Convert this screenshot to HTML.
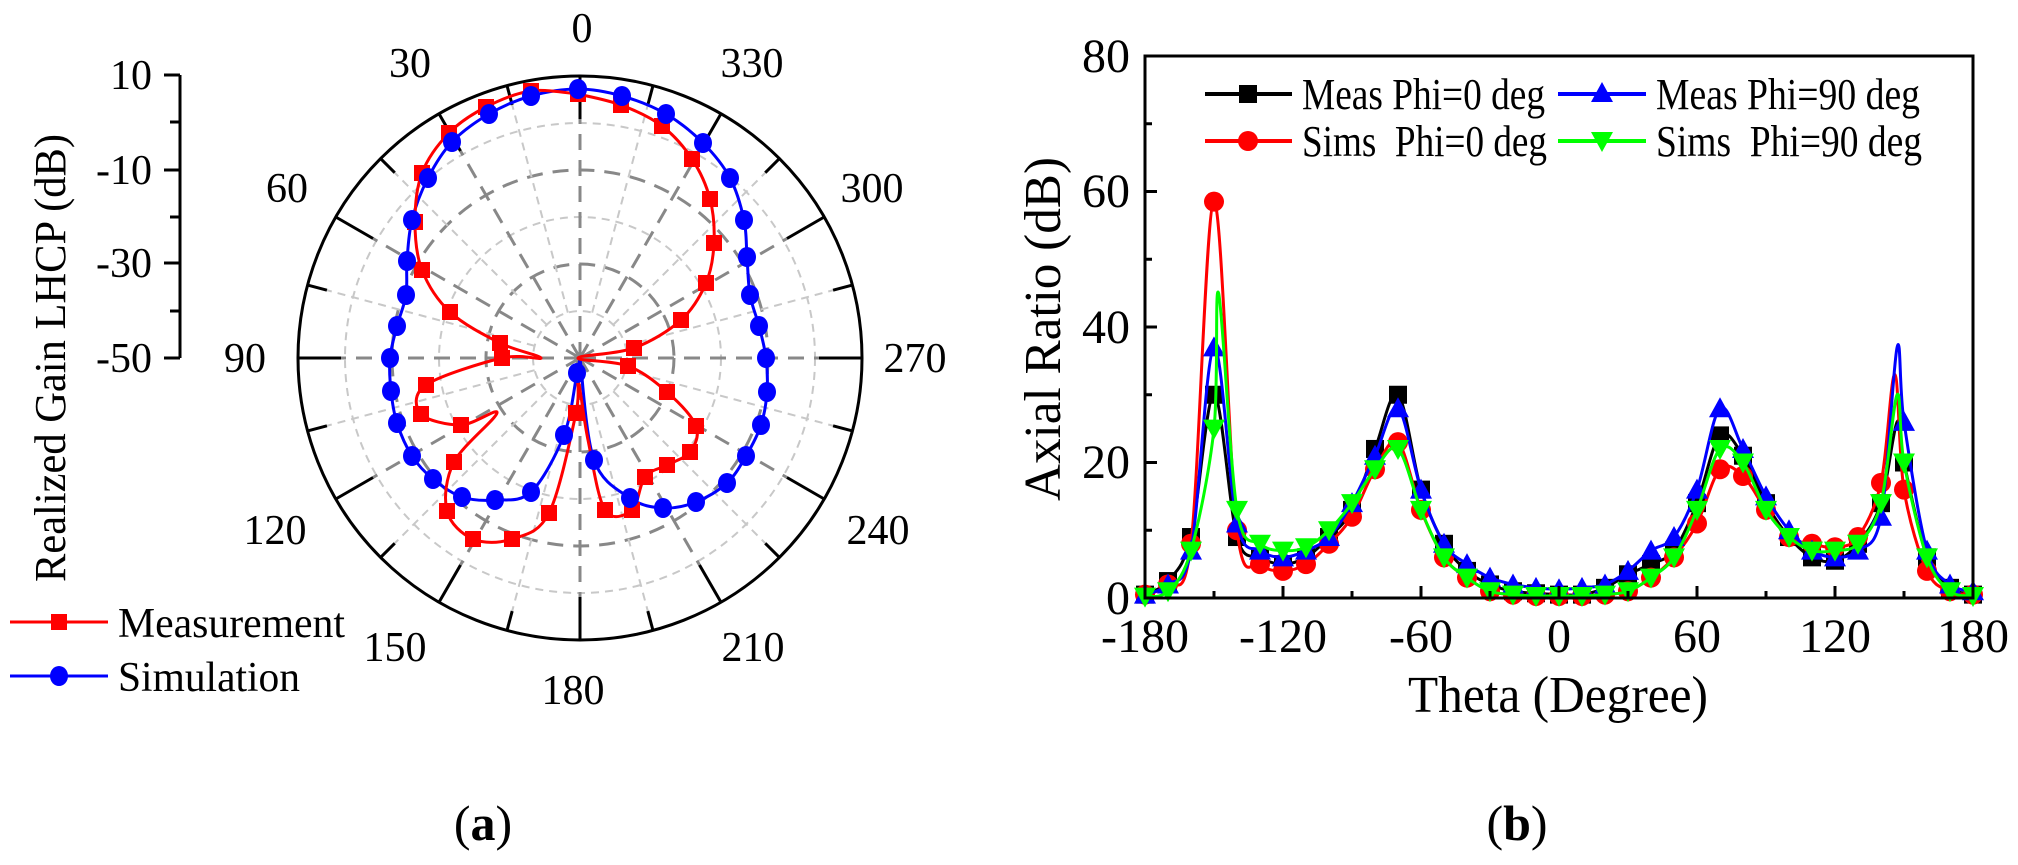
<!DOCTYPE html>
<html><head><meta charset="utf-8"><style>
html,body{margin:0;padding:0;background:#fff;font-family:"Liberation Serif","Times New Roman",serif;}
svg{display:block;}
svg text{font-family:"Liberation Serif","Times New Roman",serif;}
</style></head><body>
<svg id="s" width="2018" height="865" viewBox="0 0 2018 865" xmlns="http://www.w3.org/2000/svg" font-family="Liberation Serif, serif">
<g id="polargrid"></g>
<g id="polardata"></g>
<g stroke="#000" stroke-width="3" fill="none">
<line x1="180" y1="75" x2="180" y2="358"/>
<line x1="164" y1="75" x2="180" y2="75"/><line x1="170" y1="122" x2="180" y2="122"/>
<line x1="164" y1="170" x2="180" y2="170"/><line x1="170" y1="217" x2="180" y2="217"/>
<line x1="164" y1="263" x2="180" y2="263"/><line x1="170" y1="311" x2="180" y2="311"/>
<line x1="164" y1="358" x2="180" y2="358"/>
</g>
<g font-size="42" text-anchor="end">
<text x="152" y="89">10</text><text x="152" y="184">-10</text><text x="152" y="277">-30</text><text x="152" y="372">-50</text>
</g>
<text transform="translate(65,358) rotate(-90)" font-size="44" text-anchor="middle" textLength="448" lengthAdjust="spacingAndGlyphs">Realized Gain LHCP (dB)</text>
<g font-size="42" text-anchor="middle">
<text x="582" y="42">0</text>
<text x="410" y="77">30</text>
<text x="287" y="202">60</text>
<text x="245" y="372">90</text>
<text x="275" y="544">120</text>
<text x="395" y="661">150</text>
<text x="573" y="704">180</text>
<text x="753" y="661">210</text>
<text x="878" y="544">240</text>
<text x="915" y="372">270</text>
<text x="872" y="202">300</text>
<text x="752" y="77">330</text>
</g>
<line x1="10" y1="622" x2="108" y2="622" stroke="#f00" stroke-width="3"/>
<rect x="51" y="614" width="16" height="16" fill="#f00"/>
<line x1="10" y1="676" x2="108" y2="676" stroke="#00f" stroke-width="3"/>
<ellipse cx="59" cy="676" rx="9" ry="10" fill="#00f"/>
<text x="118" y="637" font-size="42" textLength="227" lengthAdjust="spacingAndGlyphs">Measurement</text>
<text x="118" y="691" font-size="42" textLength="182" lengthAdjust="spacingAndGlyphs">Simulation</text>
<text x="483" y="840" font-size="50" text-anchor="middle">(<tspan font-weight="bold">a</tspan>)</text>

<g id="rdata"></g>
<rect x="1145" y="56" width="828" height="542" fill="none" stroke="#000" stroke-width="3"/>
<g id="rticks" stroke="#000" stroke-width="3"></g>
<g font-size="48" text-anchor="end">
<text x="1130" y="614">0</text><text x="1130" y="478">20</text><text x="1130" y="343">40</text><text x="1130" y="207">60</text><text x="1130" y="72">80</text>
</g>
<g font-size="48" text-anchor="middle">
<text x="1145" y="652">-180</text><text x="1283" y="652">-120</text><text x="1421" y="652">-60</text><text x="1559" y="652">0</text><text x="1697" y="652">60</text><text x="1835" y="652">120</text><text x="1973" y="652">180</text>
</g>
<text x="1558" y="712" font-size="52" text-anchor="middle" textLength="300" lengthAdjust="spacingAndGlyphs">Theta (Degree)</text>
<text transform="translate(1060,329) rotate(-90)" font-size="52" text-anchor="middle" textLength="344" lengthAdjust="spacingAndGlyphs">Axial Ratio (dB)</text>
<text x="1517" y="840" font-size="50" text-anchor="middle">(<tspan font-weight="bold">b</tspan>)</text>
<g stroke-width="4">
<line x1="1205" y1="94" x2="1292" y2="94" stroke="#000"/>
<line x1="1558" y1="94" x2="1646" y2="94" stroke="#00f"/>
<line x1="1205" y1="141" x2="1292" y2="141" stroke="#f00"/>
<line x1="1558" y1="141" x2="1646" y2="141" stroke="#0f0"/>
</g>
<rect x="1239" y="85" width="18" height="18" fill="#000"/>
<polygon points="1602,82 1613,102 1591,102" fill="#00f"/>
<circle cx="1248" cy="141" r="10" fill="#f00"/>
<polygon points="1591,132 1613,132 1602,152" fill="#0f0"/>
<g font-size="44">
<text x="1302" y="109" textLength="243" lengthAdjust="spacingAndGlyphs">Meas Phi=0 deg</text>
<text x="1656" y="109" textLength="264" lengthAdjust="spacingAndGlyphs">Meas Phi=90 deg</text>
<text x="1302" y="156" textLength="245" lengthAdjust="spacingAndGlyphs">Sims&#160; Phi=0 deg</text>
<text x="1656" y="156" textLength="266" lengthAdjust="spacingAndGlyphs">Sims&#160; Phi=90 deg</text>
</g>
</svg>
<script>
var NS="http://www.w3.org/2000/svg";
function el(p,t,a){var e=document.createElementNS(NS,t);for(var k in a)e.setAttribute(k,a[k]);p.appendChild(e);return e;}
var cx=580,cy=358,R=282;
var g=document.getElementById('polargrid');
[47,141,235].forEach(function(r){el(g,'circle',{cx:cx,cy:cy,r:r,fill:'none',stroke:'#c8c8c8','stroke-width':2,'stroke-dasharray':'8 6'});});
[94,188].forEach(function(r){el(g,'circle',{cx:cx,cy:cy,r:r,fill:'none',stroke:'#888','stroke-width':3,'stroke-dasharray':'16 10'});});
for(var a=0;a<360;a+=15){
 var rad=a*Math.PI/180,s=Math.sin(rad),c=Math.cos(rad);
 var P=function(r){return [cx-r*s,cy-r*c];};
 if(a%30==0){
  var p0=P(0),p1=P(R-43);
  el(g,'line',{x1:p0[0],y1:p0[1],x2:p1[0],y2:p1[1],stroke:'#888','stroke-width':3,'stroke-dasharray':'16 10'});
  var q=P(R);el(g,'line',{x1:p1[0],y1:p1[1],x2:q[0],y2:q[1],stroke:'#000','stroke-width':3});
 } else {
  var p0=P(47),p1=P(R-20);
  el(g,'line',{x1:p0[0],y1:p0[1],x2:p1[0],y2:p1[1],stroke:'#c8c8c8','stroke-width':2,'stroke-dasharray':'8 6'});
  var q=P(R);el(g,'line',{x1:p1[0],y1:p1[1],x2:q[0],y2:q[1],stroke:'#000','stroke-width':3});
 }
}
el(g,'circle',{cx:cx,cy:cy,r:R,fill:'none',stroke:'#000','stroke-width':3});

function smooth(pts){
 var d='M'+pts[0][0]+','+pts[0][1];
 for(var i=0;i<pts.length-1;i++){
  var p0=pts[i-1]||pts[i],p1=pts[i],p2=pts[i+1],p3=pts[i+2]||p2,t=6;
  d+=' C'+(p1[0]+(p2[0]-p0[0])/t)+','+(p1[1]+(p2[1]-p0[1])/t)+' '+(p2[0]-(p3[0]-p1[0])/t)+','+(p2[1]-(p3[1]-p1[1])/t)+' '+p2[0]+','+p2[1];
 }
 return d;
}
var pd=document.getElementById('polardata');
var blue=[[580,358],[577,373],[564,435],[531,492],[495,500],[462,497],[433,479],[412,456],[397,423],[391,391],[390,358],[397,326],[406,295],[407,261],[412,220],[428,178],[452,142],[489,114],[531,96],[578,89],[622,96],[666,114],[703,143],[730,178],[744,220],[747,257],[750,295],[759,326],[766,358],[767,392],[761,425],[746,456],[727,483],[696,502],[663,508],[630,498],[594,460],[580,358]];
el(pd,'path',{d:smooth(blue),fill:'none',stroke:'#00f','stroke-width':3});
var red=[[578,94],[531,91],[486,107],[449,133],[422,173],[415,222],[422,270],[450,312],[500,343],[541,358,1],[502,358],[426,385],[421,414],[461,425],[497,413,1],[454,462],[447,511],[473,539],[512,539],[549,513],[576,413],[578,380,1],[588,440,1],[605,510],[632,510],[645,477],[667,465],[690,452],[696,426],[667,392],[628,366],[578,358,1],[634,348],[681,320],[706,283],[714,243],[710,199],[692,159],[662,126],[621,105],[578,94]];
el(pd,'path',{d:smooth(red),fill:'none',stroke:'#f00','stroke-width':3});
red.forEach(function(p){if(!p[2])el(pd,'rect',{x:p[0]-8,y:p[1]-8,width:16,height:16,fill:'#f00'});});
blue.forEach(function(p,i){if(i>0&&i<blue.length-1)el(pd,'ellipse',{cx:p[0],cy:p[1],rx:9,ry:10,fill:'#00f'});});

var X=function(t){return 1145+(t+180)*2.3;},Y=function(v){return 598-v*6.775;};
var tk=document.getElementById('rticks');
for(var t=-150;t<180;t+=30){var L=(t%60==0)?12:7;el(tk,'line',{x1:X(t),y1:598,x2:X(t),y2:598-L});}
for(var v=10;v<80;v+=10){var L=(v%20==0)?12:7;el(tk,'line',{x1:1145,y1:Y(v),x2:1145+L,y2:Y(v)});}
var th=[-180,-170,-160,-150,-140,-130,-120,-110,-100,-90,-80,-70,-60,-50,-40,-30,-20,-10,0,10,20,30,40,50,60,70,80,90,100,110,120,130,140,150,160,170,180];
function series(vals,extra){var p=th.map(function(t,i){return [t,vals[i]];});if(extra)extra.forEach(function(e){p.push(e);});p.sort(function(a,b){return a[0]-b[0];});return p;}
var blk=[0.5,2.5,9,30,9,6,5,6,9,13,22,30,16,8,4,2,1,0.7,0.5,0.5,1.5,3.5,5,7,14,24,21,14,9,6,5.5,8,14,20,6,1.5,0.5];
var rd=[0.5,2,8,58.5,10,5,4,5,8,12,19,23,13,6,3,1,0.5,0.3,0.3,0.3,0.5,1,3,6,11,19,18,13,9,8,7.5,9,17,16,4,1,0.5];
var bl=[0.5,2,7,37,11,7,6,7,9,14,21,28,16,8,5,3,2,1.5,1.3,1.5,2,4,7,9,16,28,22,15,10,7,6,7,12,26,7,2,1];
var gr=[0.2,1,7,25,13,8,7,7.5,10,14,19,22,13,6,3,1,0.5,0.3,0.3,0.3,0.5,1,3,6,13,22,20,13,9,7,7,8,14,20,6,1,0.3];
var rdata=document.getElementById('rdata');
function draw(vals,extra,color,mk){
 var p=series(vals,extra);
 var pts=p.map(function(q){return [X(q[0]),Y(q[1])];});
 el(rdata,'path',{d:smooth(pts),fill:'none',stroke:color,'stroke-width':3});
 th.forEach(function(t,i){var x=X(t),y=Y(vals[i]);
  if(mk=='sq')el(rdata,'rect',{x:x-9,y:y-9,width:18,height:18,fill:color});
  if(mk=='ci')el(rdata,'circle',{cx:x,cy:y,r:10,fill:color});
  if(mk=='up')el(rdata,'polygon',{points:(x)+','+(y-11)+' '+(x+11)+','+(y+9)+' '+(x-11)+','+(y+9),fill:color});
  if(mk=='dn')el(rdata,'polygon',{points:(x-11)+','+(y-9)+' '+(x+11)+','+(y-9)+' '+(x)+','+(y+11),fill:color});
 });
}
draw(blk,[[147,26]],'#000','sq');
draw(rd,[[146,33]],'#f00','ci');
draw(bl,[[147,37]],'#00f','up');
draw(gr,[[-148,45],[147,30]],'#0f0','dn');
</script>
</body></html>
